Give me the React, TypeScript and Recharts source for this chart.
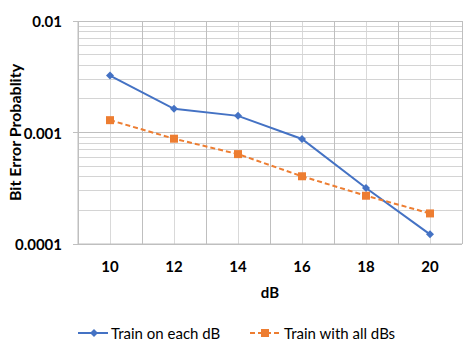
import React from "react";
import {
  LineChart,
  Line,
  XAxis,
  YAxis,
  CartesianGrid,
  ReferenceLine,
  Legend,
} from "recharts";

const snr = [10, 12, 14, 16, 18, 20];
const trainEach = [0.00324, 0.00163, 0.00141, 0.000875, 0.000318, 0.000122];
const trainAll = [0.00129, 0.00088, 0.00064, 0.000405, 0.000271, 0.000188];

const xGridTicks = [9, 10, 11, 12, 13, 14, 15, 16, 17, 18, 19, 20, 21];
const xBoundaries = [9, 11, 13, 15, 17, 19, 21];
const xLabels = [10, 12, 14, 16, 18, 20];

const yGridTicks = [
  0.0001, 0.0002, 0.0003, 0.0004, 0.0005, 0.0006, 0.0007, 0.0008, 0.0009,
  0.001, 0.002, 0.003, 0.004, 0.005, 0.006, 0.007, 0.008, 0.009, 0.01,
];
const yLabels = ["0.0001", "0.001", "0.01"];

const data = snr.map((db, i) => ({ db, each: trainEach[i], all: trainAll[i] }));

const BLUE = "#4472C4";
const ORANGE = "#ED7D31";
const FONT = "Lato, 'Open Sans', sans-serif";

const Diamond = (props: any) => {
  const { cx, cy } = props;
  if (cx == null || cy == null) return null;
  return (
    <polygon
      points={`${cx},${cy - 4} ${cx + 4},${cy} ${cx},${cy + 4} ${cx - 4},${cy}`}
      fill={BLUE}
    />
  );
};

const Square = (props: any) => {
  const { cx, cy } = props;
  if (cx == null || cy == null) return null;
  return <rect x={cx - 4} y={cy - 4} width={8} height={8} fill={ORANGE} />;
};

const YTick = (props: any) => {
  const { x, y, payload } = props;
  const v = payload.value;
  const label = yLabels.find((l) => Math.abs(Number(l) - v) < v * 1e-6);
  if (!label) return null;
  return (
    <g>
      <line x1={x - 5} x2={x} y1={y} y2={y} stroke="#bfbfbf" shapeRendering="crispEdges" />
      <text
        x={x - 16}
        y={y}
        textAnchor="end"
        dominantBaseline="central"
        fontSize={15}
        fontWeight={700}
        fill="#000"
        fontFamily={FONT}
      >
        {label}
      </text>
    </g>
  );
};

const XTick = (props: any) => {
  const { x, y, payload } = props;
  if (!xLabels.includes(payload.value)) return null;
  return (
    <text
      x={x}
      y={y + 22}
      textAnchor="middle"
      dominantBaseline="central"
      fontSize={15}
      fontWeight={700}
      fill="#000"
      fontFamily={FONT}
    >
      {payload.value}
    </text>
  );
};

const LegendContent = () => (
  <svg width={474} height={24}>
    <g fontFamily={FONT} fontSize={15} fill="#000">
      <line x1={78} x2={108} y1={12} y2={12} stroke={BLUE} strokeWidth={2} />
      <Diamond cx={94} cy={12} />
      <text x={111} y={12} dominantBaseline="central">
        Train on each dB
      </text>
      <line
        x1={250}
        x2={282}
        y1={12}
        y2={12}
        stroke={ORANGE}
        strokeWidth={2}
        strokeDasharray="5 3"
      />
      <Square cx={265} cy={12} />
      <text x={284} y={12} dominantBaseline="central">
        Train with all dBs
      </text>
    </g>
  </svg>
);

export default function App() {
  return (
    <div style={{ position: "absolute", left: 0, top: 0, background: "#fff" }}>
      <LineChart
        width={474}
        height={354}
        data={data}
        margin={{ top: 21, right: 12, left: 0, bottom: 9 }}
      >
        <CartesianGrid
          stroke="#d9d9d9"
          strokeWidth={1}
          horizontal={false}
          shapeRendering="crispEdges"
        />
        {yGridTicks.map((t) => (
          <ReferenceLine
            key={"yg" + t}
            y={t}
            stroke="#d4d4d4"
            shapeRendering="crispEdges"
          />
        ))}
        {xBoundaries.map((b) => (
          <ReferenceLine
            key={"x" + b}
            x={b}
            stroke="#bfbfbf"
            shapeRendering="crispEdges"
          />
        ))}
        {yLabels.map((l) => (
          <ReferenceLine
            key={"y" + l}
            y={Number(l)}
            stroke="#bfbfbf"
            shapeRendering="crispEdges"
          />
        ))}
        <XAxis
          dataKey="db"
          type="number"
          domain={[9, 21]}
          ticks={xGridTicks}
          interval={0}
          tickLine={false}
          tickSize={0}
          tickMargin={0}
          axisLine={{ stroke: "#bfbfbf" }}
          tick={<XTick />}
          height={77}
          label={(p: any) => {
            const vb = p.viewBox;
            return (
              <text
                x={vb.x + vb.width / 2}
                y={vb.y + 48}
                textAnchor="middle"
                dominantBaseline="central"
                fontSize={15}
                fontWeight={700}
                fontFamily={FONT}
                fill="#000"
              >
                dB
              </text>
            );
          }}
        />
        <YAxis
          type="number"
          scale="log"
          domain={[0.0001, 0.01]}
          allowDataOverflow
          ticks={yGridTicks}
          interval={0}
          tickLine={false}
          tickSize={0}
          tickMargin={0}
          axisLine={{ stroke: "#bfbfbf" }}
          tick={<YTick />}
          width={78}
          label={(p: any) => {
            const vb = p.viewBox;
            const cy = vb.y + vb.height / 2;
            return (
              <text
                x={14}
                y={cy}
                transform={`rotate(-90, 14, ${cy})`}
                textAnchor="middle"
                dominantBaseline="central"
                fontSize={16}
                fontWeight={700}
                fontFamily={FONT}
                fill="#000"
              >
                Bit Error Probablity
              </text>
            );
          }}
        />
        <Line
          dataKey="each"
          stroke={BLUE}
          strokeWidth={2}
          dot={<Diamond />}
          activeDot={false}
          isAnimationActive={false}
        />
        <Line
          dataKey="all"
          stroke={ORANGE}
          strokeWidth={2}
          strokeDasharray="5 3"
          dot={<Square />}
          activeDot={false}
          isAnimationActive={false}
        />
        <Legend
          verticalAlign="bottom"
          height={24}
          content={<LegendContent />}
          wrapperStyle={{ left: 0, width: 474 }}
        />
      </LineChart>
    </div>
  );
}
